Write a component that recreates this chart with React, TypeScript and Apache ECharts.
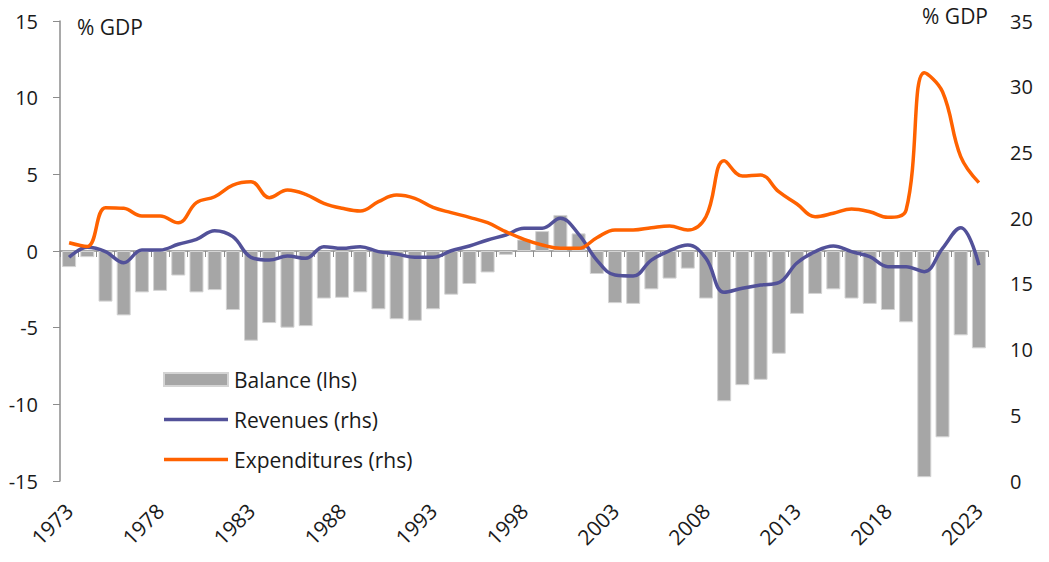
import React, { useEffect, useRef } from "react";
import * as echarts from "echarts";

const years: string[] = [];
for (let y = 1973; y <= 2023; y++) years.push(String(y));

// General government balance, % of GDP (left axis)
const balance = [
  -1.05, -0.4, -3.3, -4.2, -2.7, -2.6, -1.6, -2.7, -2.55, -3.85,
  -5.85, -4.7, -5.0, -4.9, -3.1, -3.05, -2.7, -3.8, -4.45, -4.55,
  -3.8, -2.85, -2.15, -1.4, -0.25, 0.75, 1.3, 2.35, 1.15, -1.5,
  -3.4, -3.45, -2.5, -1.8, -1.15, -3.1, -9.8, -8.75, -8.4, -6.7,
  -4.1, -2.8, -2.5, -3.1, -3.45, -3.85, -4.65, -14.75, -12.15, -5.5,
  -6.35,
];

// Revenues, % of GDP (right axis)
const revenues = [
  17.02, 17.78, 17.45, 16.61, 17.58, 17.58, 18.01, 18.39, 19.05, 18.59,
  17.02, 16.81, 17.12, 16.94, 17.83, 17.7, 17.83, 17.45, 17.27, 17.02,
  17.02, 17.52, 17.88, 18.34, 18.72, 19.23, 19.23, 19.99, 18.79, 16.81,
  15.67, 15.6, 16.81, 17.52, 17.96, 16.94, 14.36, 14.66, 14.91, 15.09,
  16.59, 17.45, 17.88, 17.45, 17.07, 16.31, 16.31, 15.93, 17.7, 19.27,
  16.43,
];

// Expenditures, % of GDP (right axis)
const expenditures = [
  18.13, 17.85, 20.8, 20.75, 20.16, 20.16, 19.65, 21.18, 21.63, 22.52,
  22.77, 21.56, 22.14, 21.81, 21.13, 20.75, 20.54, 21.25, 21.76, 21.51,
  20.82, 20.42, 20.06, 19.65, 18.97, 18.39, 17.96, 17.7, 17.7, 18.51,
  19.1, 19.1, 19.27, 19.4, 19.1, 20.11, 24.37, 23.2, 23.28, 22.01,
  21.08, 20.11, 20.37, 20.7, 20.49, 20.06, 20.62, 31.07, 29.62, 24.68,
  22.7,
];

const FONT = "'Open Sans', 'Noto Sans', sans-serif";
const TEXT = "#1a1a1a";
const AXIS = "#8c8c8c";
const REV = "#525199";
const EXP = "#ff6200";
// flat bar used as the legend key of the two lines
const LINE_KEY = "path://M0,0 L64,0 L64,3.5 L0,3.5 Z";

export default function App() {
  const ref = useRef<HTMLDivElement>(null);

  useEffect(() => {
    if (!ref.current) return;
    const chart = echarts.init(ref.current, undefined, { renderer: "svg" });
    chart.setOption({
      animation: false,
      backgroundColor: "#ffffff",
      textStyle: { fontFamily: FONT, color: TEXT },
      grid: { left: 60, right: 61, top: 21, bottom: 81, containLabel: false },
      legend: {
        orient: "vertical",
        left: 158,
        top: 364,
        itemWidth: 64,
        itemHeight: 13,
        itemGap: 19,
        textStyle: { fontFamily: FONT, fontSize: 21, color: TEXT, padding: [0, 0, 0, 1] },
        data: [
          { name: "Balance (lhs)", icon: "rect" },
          { name: "Revenues (rhs)", icon: LINE_KEY },
          { name: "Expenditures (rhs)", icon: LINE_KEY },
        ],
      },
      graphic: [
        {
          type: "text",
          left: 77,
          top: 16,
          style: { text: "% GDP", font: `21px ${FONT}`, fill: TEXT },
        },
        {
          type: "text",
          right: 61,
          top: 5,
          style: { text: "% GDP", font: `21px ${FONT}`, fill: TEXT },
        },
      ],
      xAxis: [
        {
          type: "category",
          data: years,
          position: "bottom",
          axisLine: { show: false, onZero: false },
          axisTick: { show: false },
          axisLabel: {
            interval: 4,
            rotate: 45,
            margin: 26,
            fontSize: 21,
            fontFamily: FONT,
            color: TEXT,
          },
        },
        {
          type: "category",
          data: years,
          position: "bottom",
          axisLine: { show: true, onZero: true, lineStyle: { color: AXIS, width: 1.5 } },
          axisTick: { show: true, interval: 0, length: 6, lineStyle: { color: AXIS } },
          axisLabel: { show: false },
        },
      ],
      yAxis: [
        {
          type: "value",
          min: -15,
          max: 15,
          interval: 5,
          axisLine: { show: true, lineStyle: { color: AXIS, width: 1.5 } },
          axisTick: { show: true, length: 7, lineStyle: { color: AXIS } },
          axisLabel: { margin: 22, fontSize: 20, fontFamily: FONT, color: TEXT },
          splitLine: { show: false },
        },
        {
          type: "value",
          min: 0,
          max: 35,
          interval: 5,
          position: "right",
          axisLine: { show: false },
          axisTick: { show: false },
          axisLabel: { margin: 22, fontSize: 20, fontFamily: FONT, color: TEXT },
          splitLine: { show: false },
        },
      ],
      series: [
        {
          name: "Balance (lhs)",
          type: "bar",
          xAxisIndex: 0,
          yAxisIndex: 0,
          data: balance,
          barCategoryGap: "23%",
          itemStyle: { color: "#a6a6a6", borderColor: "#d4d4d4", borderWidth: 1 },
        },
        {
          name: "Revenues (rhs)",
          type: "line",
          xAxisIndex: 0,
          yAxisIndex: 1,
          data: revenues,
          smooth: 0.4,
          symbol: "none",
          lineStyle: { color: REV, width: 3.5 },
          itemStyle: { color: REV },
        },
        {
          name: "Expenditures (rhs)",
          type: "line",
          xAxisIndex: 0,
          yAxisIndex: 1,
          data: expenditures,
          smooth: 0.4,
          symbol: "none",
          lineStyle: { color: EXP, width: 3.5 },
          itemStyle: { color: EXP },
        },
      ],
    });
    return () => chart.dispose();
  }, []);

  return (
    <div
      ref={ref}
      style={{ position: "fixed", left: 0, top: 0, width: 1049, height: 562 }}
    />
  );
}
